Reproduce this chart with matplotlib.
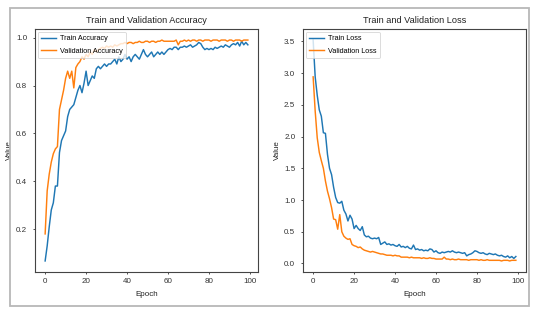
import matplotlib
matplotlib.use("Agg")
import matplotlib.pyplot as plt
from matplotlib.patches import Rectangle

plt.rcParams['font.family'] = ['Liberation Sans', 'DejaVu Sans']

epochs = list(range(100))

train_acc = [0.067, 0.13, 0.21, 0.28, 0.31, 0.38, 0.38, 0.52, 0.57, 0.59,
             0.61, 0.67, 0.70, 0.71, 0.72, 0.75, 0.78, 0.80, 0.77, 0.81,
             0.86, 0.80, 0.82, 0.84, 0.83, 0.87, 0.88, 0.87, 0.88, 0.89,
             0.88, 0.89, 0.89, 0.90, 0.91, 0.89, 0.92, 0.90, 0.91, 0.93,
             0.91, 0.92, 0.90, 0.92, 0.93, 0.92, 0.91, 0.93, 0.95, 0.93,
             0.92, 0.93, 0.94, 0.92, 0.93, 0.94, 0.93, 0.94, 0.93, 0.94,
             0.95, 0.955, 0.95, 0.96, 0.96, 0.95, 0.96, 0.96, 0.965, 0.96,
             0.965, 0.97, 0.96, 0.965, 0.97, 0.98, 0.975, 0.96, 0.95, 0.955,
             0.95, 0.955, 0.95, 0.96, 0.955, 0.96, 0.965, 0.96, 0.97, 0.965,
             0.96, 0.97, 0.975, 0.97, 0.98, 0.965, 0.985, 0.97, 0.98, 0.97]

val_acc = [0.18, 0.36, 0.43, 0.48, 0.515, 0.535, 0.545, 0.70, 0.74, 0.78,
           0.83, 0.86, 0.83, 0.86, 0.79, 0.875, 0.89, 0.90, 0.92, 0.91,
           0.93, 0.92, 0.94, 0.93, 0.95, 0.94, 0.95, 0.955, 0.96, 0.955,
           0.965, 0.96, 0.965, 0.96, 0.97, 0.965, 0.97, 0.975, 0.975, 0.98,
           0.975, 0.98, 0.98, 0.975, 0.98, 0.98, 0.985, 0.98, 0.98, 0.985,
           0.985, 0.98, 0.985, 0.985, 0.98, 0.985, 0.985, 0.99, 0.985, 0.985,
           0.985, 0.985, 0.985, 0.985, 0.99, 0.97, 0.985, 0.985, 0.99, 0.985,
           0.99, 0.985, 0.99, 0.99, 0.985, 0.99, 0.99, 0.985, 0.99, 0.99,
           0.99, 0.985, 0.99, 0.99, 0.99, 0.985, 0.99, 0.99, 0.99, 0.985,
           0.99, 0.99, 0.985, 0.99, 0.99, 0.99, 0.985, 0.99, 0.99, 0.99]

train_loss = [3.52, 2.94, 2.65, 2.42, 2.32, 2.06, 2.05, 1.72, 1.50, 1.40,
              1.20, 1.04, 0.96, 0.95, 0.98, 0.84, 0.78, 0.67, 0.76, 0.70,
              0.55, 0.60, 0.55, 0.52, 0.58, 0.45, 0.42, 0.43, 0.40, 0.39,
              0.40, 0.39, 0.41, 0.30, 0.32, 0.34, 0.30, 0.31, 0.29, 0.30,
              0.28, 0.27, 0.30, 0.26, 0.27, 0.25, 0.27, 0.24, 0.23, 0.29,
              0.22, 0.23, 0.21, 0.22, 0.20, 0.21, 0.20, 0.23, 0.22, 0.18,
              0.20, 0.17, 0.16, 0.18, 0.17, 0.18, 0.19, 0.18, 0.20, 0.18,
              0.17, 0.18, 0.17, 0.16, 0.17, 0.12, 0.14, 0.15, 0.17, 0.20,
              0.19, 0.17, 0.16, 0.17, 0.15, 0.14, 0.16, 0.15, 0.14, 0.15,
              0.13, 0.12, 0.13, 0.11, 0.10, 0.12, 0.09, 0.11, 0.08, 0.11]

val_loss = [2.94, 2.40, 1.98, 1.75, 1.62, 1.50, 1.30, 1.14, 1.02, 0.88,
            0.70, 0.69, 0.54, 0.77, 0.50, 0.43, 0.40, 0.38, 0.39, 0.30,
            0.28, 0.27, 0.25, 0.26, 0.23, 0.21, 0.20, 0.19, 0.18, 0.19,
            0.18, 0.17, 0.16, 0.15, 0.15, 0.14, 0.13, 0.13, 0.13, 0.12,
            0.13, 0.12, 0.12, 0.10, 0.10, 0.10, 0.10, 0.09, 0.10, 0.09,
            0.09, 0.09, 0.09, 0.08, 0.09, 0.08, 0.08, 0.09, 0.08, 0.08,
            0.07, 0.07, 0.07, 0.07, 0.10, 0.07, 0.07, 0.06, 0.07, 0.06,
            0.06, 0.07, 0.06, 0.06, 0.06, 0.06, 0.05, 0.06, 0.06, 0.06,
            0.06, 0.05, 0.06, 0.05, 0.05, 0.06, 0.05, 0.05, 0.05, 0.05,
            0.05, 0.05, 0.04, 0.05, 0.05, 0.05, 0.04, 0.05, 0.05, 0.05]

W, H = 538, 314
fig = plt.figure(figsize=(W / 100, H / 100), dpi=100)
fig.patch.set_facecolor('white')

fig.patches.append(Rectangle((9.5 / W, 1 - 305.5 / H), 519.5 / W, 297.5 / H,
                             transform=fig.transFigure, fill=False,
                             edgecolor='#b8b8b8', linewidth=1.3))

def make(ax_rect, tr, va, labels, title):
    ax = fig.add_axes(ax_rect)
    ax.plot(epochs, tr, color='#1f77b4', lw=1.05, label=labels[0])
    ax.plot(epochs, va, color='#ff7f0e', lw=1.05, label=labels[1])
    ax.set_title(title, fontsize=6.6, pad=4.5, color='#222222')
    ax.set_xlabel('Epoch', fontsize=5.8, labelpad=4, color='#222222')
    ax.set_ylabel('Value', fontsize=5.8, labelpad=2, color='#222222')
    ax.tick_params(axis='y', labelsize=5.8, length=1.6, width=0.6, pad=4,
                   colors='#333333')
    ax.tick_params(axis='x', labelsize=5.8, length=1.6, width=0.6, pad=3,
                   colors='#333333')
    for s in ax.spines.values():
        s.set_linewidth(0.8)
        s.set_color('#444444')
    ax.set_xticks([0, 20, 40, 60, 80, 100])
    leg = ax.legend(loc='upper left', fontsize=5.2, handlelength=2.0,
                    borderpad=0.5, labelspacing=0.75, handletextpad=0.55,
                    borderaxespad=0.35, framealpha=0.8)
    leg.get_frame().set_linewidth(0.6)
    return ax

axL = make([35 / W, 1 - 272 / H, 223 / W, 243 / H], train_acc, val_acc,
           ['Train Accuracy', 'Validation Accuracy'], 'Train and Validation Accuracy')
axL.set_yticks([0.2, 0.4, 0.6, 0.8, 1.0])
axR = make([303 / W, 1 - 272 / H, 223 / W, 243 / H], train_loss, val_loss,
           ['Train Loss', 'Validation Loss'], 'Train and Validation Loss')
axR.set_yticks([0.0, 0.5, 1.0, 1.5, 2.0, 2.5, 3.0, 3.5])

fig.savefig('out.png', dpi=100)
